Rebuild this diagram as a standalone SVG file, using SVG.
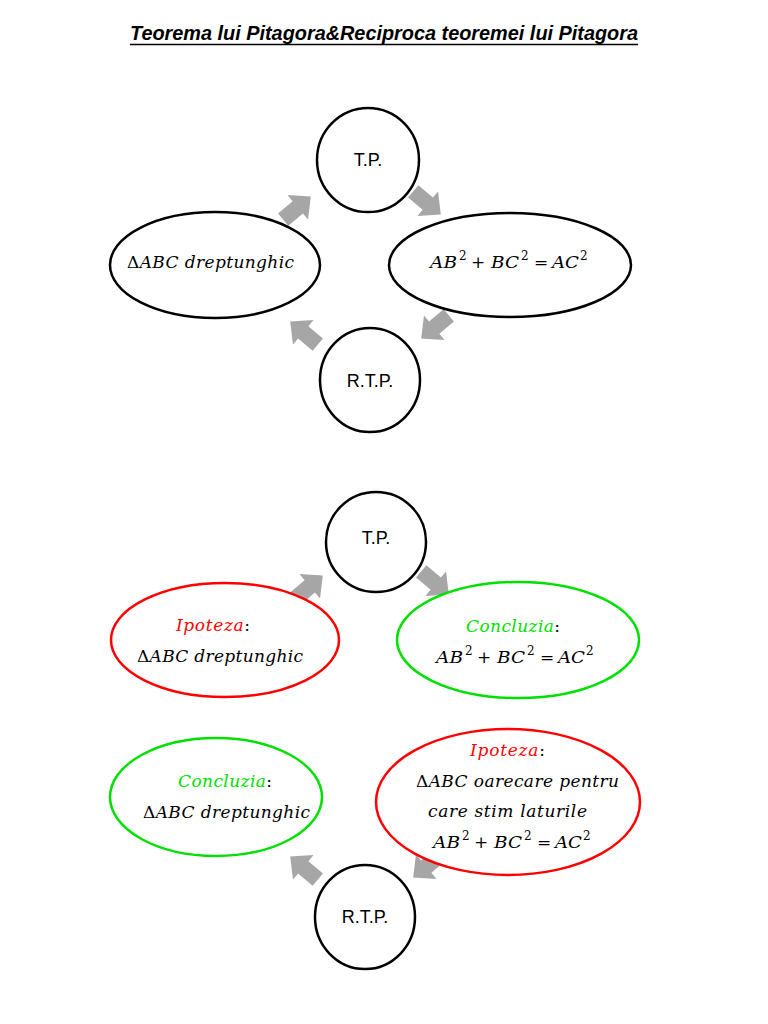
<svg xmlns="http://www.w3.org/2000/svg" width="768" height="1024" viewBox="0 0 768 1024">
<defs>
<style>
.node{fill:#fff;stroke:#000;stroke-width:2.5}
.red{fill:#fff;stroke:#f00;stroke-width:2.5}
.grn{fill:#fff;stroke:#00e000;stroke-width:2.5}
.lbl{font-family:"Liberation Sans",Arial,sans-serif;font-size:18px;fill:#000;text-anchor:middle}
.m{font-family:"DejaVu Serif","Liberation Serif",serif;font-style:italic;font-size:17px;fill:#000}
.up{font-style:normal}
.sup{font-family:"DejaVu Serif",serif;font-size:12px;fill:#000}
.op{font-family:"DejaVu Serif",serif;font-size:17px;fill:#000}
.rt{fill:#f00}
.gt{fill:#00e000}
.title{font-family:"Liberation Sans",Arial,sans-serif;font-weight:bold;font-style:italic;font-size:20px;fill:#000}
</style>
<path id="arr" d="M-18,-8 L1,-8 L1,-16 L18,0 L1,16 L1,8 L-18,8 Z" fill="#a6a6a6"/>
<g id="eq">
<text class="m" x="0" y="0" textLength="27" lengthAdjust="spacingAndGlyphs">AB</text>
<text class="sup" x="29" y="-8">2</text>
<text class="op" x="41" y="0">+</text>
<text class="m" x="61" y="0" textLength="28" lengthAdjust="spacingAndGlyphs">BC</text>
<text class="sup" x="91" y="-8">2</text>
<text class="op" x="104" y="0">=</text>
<text class="m" x="122" y="0" textLength="27" lengthAdjust="spacingAndGlyphs">AC</text>
<text class="sup" x="150" y="-8">2</text>
</g>
</defs>

<g id="title">
<text class="title" x="130" y="40" textLength="508" lengthAdjust="spacingAndGlyphs">Teorema lui Pitagora&amp;Reciproca teoremei lui Pitagora</text>
<line x1="130" y1="44.5" x2="638" y2="44.5" stroke="#000" stroke-width="1.5"/>
</g>

<g id="connectors">
<use href="#arr" transform="translate(297,208) rotate(-40)"/>
<use href="#arr" transform="translate(427,203) rotate(40)"/>
<use href="#arr" transform="translate(435,327) rotate(140)"/>
<use href="#arr" transform="translate(304,333) rotate(-140)"/>
<use href="#arr" transform="translate(309,587) rotate(-40)"/>
<use href="#arr" transform="translate(435,583) rotate(40)"/>
<use href="#arr" transform="translate(304,868) rotate(-140)"/>
<use href="#arr" transform="translate(427,866) rotate(140)"/>
</g>

<g id="tp1">
<ellipse class="node" cx="368" cy="160" rx="51" ry="52"/>
<text class="lbl" x="368" y="166">T.P.</text>
</g>
<g id="left1">
<ellipse class="node" cx="215" cy="265" rx="105" ry="53"/>
<text class="m" x="127" y="268" textLength="167" lengthAdjust="spacing"><tspan class="up">Δ</tspan>ABC dreptunghic</text>
</g>
<g id="right1">
<ellipse class="node" cx="510" cy="265" rx="121" ry="52"/>
<use href="#eq" x="430" y="268"/>
</g>
<g id="rtp1">
<ellipse class="node" cx="370" cy="380" rx="50" ry="52"/>
<text class="lbl" x="370" y="387">R.T.P.</text>
</g>

<g id="tp2">
<ellipse class="node" cx="376" cy="542" rx="50" ry="50"/>
<text class="lbl" x="376" y="544">T.P.</text>
</g>
<g id="ipo1">
<ellipse class="red" cx="225" cy="640" rx="114" ry="57"/>
<text class="m" x="176" y="631" textLength="74" lengthAdjust="spacing"><tspan class="rt">Ipoteza</tspan><tspan class="up">:</tspan></text>
<text class="m" x="137" y="662" textLength="166" lengthAdjust="spacing"><tspan class="up">Δ</tspan>ABC dreptunghic</text>
</g>
<g id="conc1">
<ellipse class="grn" cx="518" cy="640" rx="121" ry="58"/>
<text class="m" x="466" y="632" textLength="94" lengthAdjust="spacing"><tspan class="gt">Concluzia</tspan><tspan class="up">:</tspan></text>
<use href="#eq" x="436" y="663"/>
</g>
<g id="conc2">
<ellipse class="grn" cx="216" cy="797" rx="106" ry="59"/>
<text class="m" x="178" y="787" textLength="94" lengthAdjust="spacing"><tspan class="gt">Concluzia</tspan><tspan class="up">:</tspan></text>
<text class="m" x="143" y="818" textLength="167" lengthAdjust="spacing"><tspan class="up">Δ</tspan>ABC dreptunghic</text>
</g>
<g id="ipo2">
<ellipse class="red" cx="508" cy="802" rx="132" ry="73"/>
<text class="m" x="470" y="756" textLength="75" lengthAdjust="spacing"><tspan class="rt">Ipoteza</tspan><tspan class="up">:</tspan></text>
<text class="m" x="416" y="787" textLength="203" lengthAdjust="spacing"><tspan class="up">Δ</tspan>ABC oarecare pentru</text>
<text class="m" x="428" y="817" textLength="159" lengthAdjust="spacing">care stim laturile</text>
<use href="#eq" x="433" y="848"/>
</g>
<g id="rtp2">
<ellipse class="node" cx="365" cy="917" rx="50" ry="52"/>
<text class="lbl" x="365" y="923">R.T.P.</text>
</g>
</svg>
